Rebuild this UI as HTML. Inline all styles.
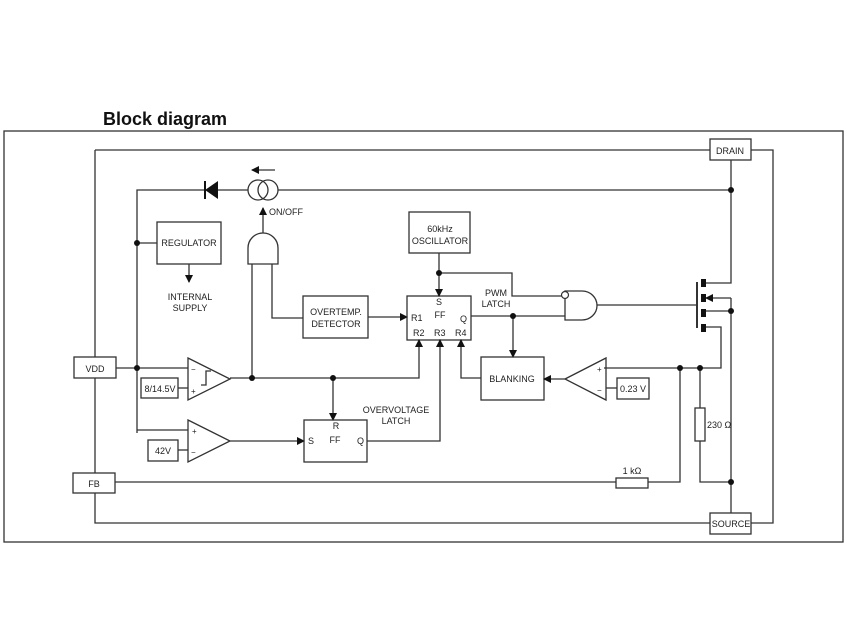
<!DOCTYPE html>
<html><head><meta charset="utf-8"><style>
body{margin:0;background:#fff;width:847px;height:639px;overflow:hidden}
svg text{font-family:"Liberation Sans",sans-serif;fill:#222}
</style></head><body>
<svg width="847" height="639" viewBox="0 0 847 639" xmlns="http://www.w3.org/2000/svg">
<defs><marker id="a" markerWidth="8" markerHeight="8" refX="7" refY="4" orient="auto" markerUnits="userSpaceOnUse"><path d="M0,0 L8,4 L0,8 Z" fill="#111"/></marker></defs>
<text x="103" y="125" font-size="18" font-weight="bold" style="fill:#111">Block diagram</text>
<g fill="none" stroke="#333" stroke-width="1.3">
<rect x="4" y="131" width="839" height="411"/>
<path d="M95,150 H710 M751,150 H773 V523 H751 M710,523 H95 V150"/>
<rect x="710" y="139" width="41" height="21" fill="#fff"/>
<rect x="710" y="513" width="41" height="21" fill="#fff"/>
<!-- top wire -->
<path d="M137,433 V190 H205 M218,190 H248 M278,190 H731"/>
<path d="M731,160 V190 V283 H706"/>
<circle cx="258" cy="190" r="10"/><circle cx="268" cy="190" r="10"/>
<path d="M137,243 H157"/>
<rect x="157" y="222" width="64" height="42"/>
<path d="M189,264 V282" marker-end="url(#a)"/>
<!-- AND -->
<path d="M248,264 V248 A15,15 0 0 1 278,248 V264 Z"/>
<path d="M263,233 V208" marker-end="url(#a)"/>
<path d="M252,264 V378 M272,264 V318 H303"/>
<rect x="303" y="296" width="65" height="42"/>
<path d="M368,317 H407" marker-end="url(#a)"/>
<rect x="407" y="296" width="64" height="44"/>
<rect x="409" y="212" width="61" height="41"/>
<path d="M439,253 V296" marker-end="url(#a)"/>
<path d="M439,273 H512 V296 H562"/>
<path d="M471,316 H565"/>
<path d="M513,316 V357" marker-end="url(#a)"/>
<path d="M565,291 V320 H582 A15,14.5 0 0 0 582,291 Z"/>
<path d="M597,305 H697"/>
<path d="M697,282 V328" stroke-width="2"/>
<path d="M731,298 H706" marker-end="url(#a)"/>
<path d="M731,298 V513 M706,311 H731 M706,327 H721 V368 H604"/>
<rect x="481" y="357" width="63" height="43"/>
<path d="M565,379 L606,358 V400 Z"/>
<path d="M565,379 H544" marker-end="url(#a)"/>
<path d="M606,388 H617"/>
<rect x="617" y="378" width="32" height="21"/>
<path d="M481,378 H461 V340" marker-end="url(#a)"/>
<path d="M700,368 V408 M700,441 V482 H731"/>
<rect x="695" y="408" width="10" height="33"/>
<path d="M115,482 H616 M648,482 H680 V368"/>
<rect x="616" y="478" width="32" height="10"/>
<rect x="74" y="357" width="42" height="21" fill="#fff"/>
<rect x="73" y="473" width="42" height="20" fill="#fff"/>
<path d="M116,368 H188"/>
<path d="M188,358 L230,379 L188,400 Z"/>
<path d="M178,388 H188"/>
<rect x="141" y="378" width="37" height="20"/>
<path d="M201,385 H206 V371 H211"/>
<path d="M230,378 H419 V340" marker-end="url(#a)"/>
<path d="M333,378 V420" marker-end="url(#a)"/>
<path d="M137,430 H188"/>
<path d="M188,420 L230,441 L188,462 Z"/>
<path d="M178,450 H188"/>
<rect x="148" y="440" width="30" height="21"/>
<path d="M230,441 H304" marker-end="url(#a)"/>
<rect x="304" y="420" width="63" height="42"/>
<path d="M367,441 H440 V340" marker-end="url(#a)"/>
<path d="M275,170 H252" marker-end="url(#a)"/>
</g>
<circle cx="565" cy="295" r="3.5" fill="#fff" stroke="#333" stroke-width="1.2"/>
<!-- diode -->
<path d="M205,190 L218,181 V199 Z" fill="#111"/><path d="M205,181 V199" stroke="#111" stroke-width="2"/>
<!-- mosfet segments -->
<g fill="#111"><rect x="701" y="279" width="5" height="8"/><rect x="701" y="294" width="5" height="8"/><rect x="701" y="309" width="5" height="8"/><rect x="701" y="324" width="5" height="8"/></g>
<g fill="#111">
<circle cx="731" cy="190" r="3"/><circle cx="137" cy="243" r="3"/><circle cx="137" cy="368" r="3"/><circle cx="439" cy="273" r="3"/><circle cx="513" cy="316" r="3"/><circle cx="731" cy="311" r="3"/><circle cx="680" cy="368" r="3"/><circle cx="700" cy="368" r="3"/><circle cx="731" cy="482" r="3"/><circle cx="252" cy="378" r="3"/><circle cx="333" cy="378" r="3"/>
</g>
<g font-size="9">
<text x="730" y="154" text-anchor="middle">DRAIN</text>
<text x="731" y="527" text-anchor="middle">SOURCE</text>
<text x="189" y="246" text-anchor="middle">REGULATOR</text>
<text x="190" y="300" text-anchor="middle">INTERNAL</text>
<text x="190" y="311" text-anchor="middle">SUPPLY</text>
<text x="269" y="215">ON/OFF</text>
<text x="336" y="315" text-anchor="middle">OVERTEMP.</text>
<text x="336" y="327" text-anchor="middle">DETECTOR</text>
<text x="440" y="232" text-anchor="middle">60kHz</text>
<text x="440" y="244" text-anchor="middle">OSCILLATOR</text>
<text x="439" y="305" text-anchor="middle">S</text>
<text x="440" y="318" text-anchor="middle">FF</text>
<text x="411" y="321">R1</text>
<text x="460" y="322">Q</text>
<text x="413" y="336">R2</text>
<text x="434" y="336">R3</text>
<text x="455" y="336">R4</text>
<text x="496" y="296" text-anchor="middle">PWM</text>
<text x="496" y="307" text-anchor="middle">LATCH</text>
<text x="512" y="382" text-anchor="middle">BLANKING</text>
<text x="633" y="392" text-anchor="middle">0.23 V</text>
<text x="707" y="428">230 Ω</text>
<text x="632" y="474" text-anchor="middle">1 kΩ</text>
<text x="95" y="372" text-anchor="middle">VDD</text>
<text x="94" y="487" text-anchor="middle">FB</text>
<text x="160" y="392" text-anchor="middle">8/14.5V</text>
<text x="163" y="454" text-anchor="middle">42V</text>
<text x="336" y="429" text-anchor="middle">R</text>
<text x="335" y="443" text-anchor="middle">FF</text>
<text x="308" y="444">S</text>
<text x="357" y="444">Q</text>
<text x="396" y="413" text-anchor="middle">OVERVOLTAGE</text>
<text x="396" y="424" text-anchor="middle">LATCH</text>
</g>
<g font-size="8">
<text x="191" y="372">−</text><text x="191" y="394">+</text>
<text x="192" y="434">+</text><text x="191" y="455">−</text>
<text x="597" y="372">+</text><text x="597" y="393">−</text>
</g>
</svg>
</body></html>
